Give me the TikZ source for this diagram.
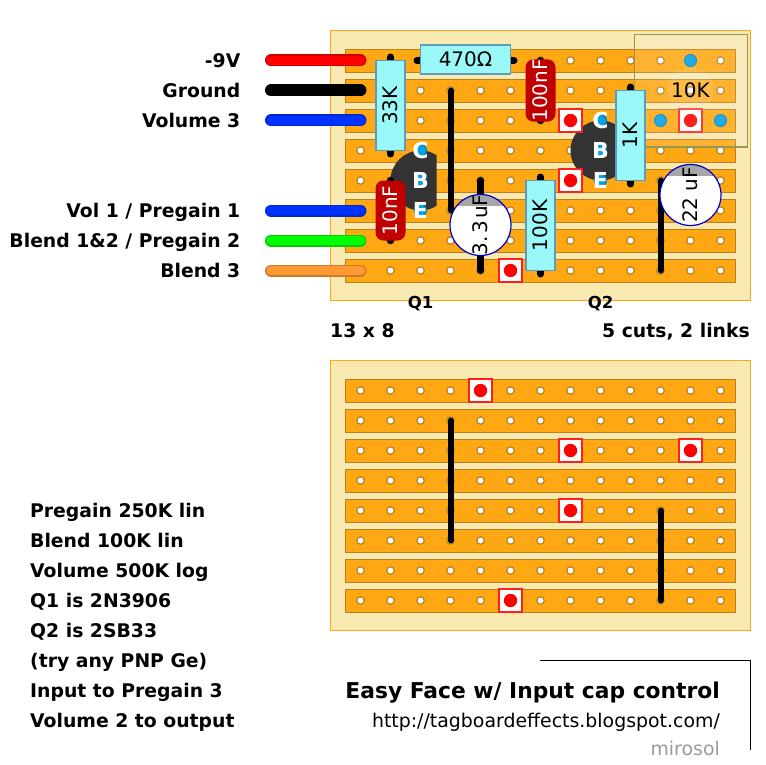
\documentclass[tikz,border=0pt]{standalone}
\usepackage{fontspec}
\setmainfont{DejaVu Sans}
\usepackage{xcolor}
\usepackage{tikz}
\usetikzlibrary{calc}
\definecolor{boardfill}{HTML}{F8E9B0}
\definecolor{boardedge}{HTML}{FFA51E}
\definecolor{stripfill}{HTML}{FFA813}
\definecolor{stripedge}{HTML}{B8801F}
\definecolor{resfill}{HTML}{9BF8F8}
\definecolor{resedge}{HTML}{5B9BBF}
\definecolor{capred}{HTML}{C00000}
\definecolor{padblue}{HTML}{00A2E8}
\definecolor{potedge}{HTML}{8F9B55}
\definecolor{wireblue}{HTML}{0033FF}
\definecolor{wiregreen}{HTML}{00FF00}
\definecolor{wireorange}{HTML}{FF9933}
\tikzset{
  board/.style={draw=boardedge, fill=boardfill, line width=1pt},
  strip/.style={draw=stripedge, fill=stripfill, line width=1.2pt, minimum width=390pt, minimum height=23pt, inner sep=0pt},
  hole/.style={circle, draw=stripedge, fill=white, line width=1.2pt, minimum size=7.5pt, inner sep=0pt},
  cutbox/.style={draw=red!88!white, fill=white, line width=1.2pt, minimum size=23pt, inner sep=0pt, path picture={\fill[red] (path picture bounding box.center) circle(6.7pt);}},
  link/.style={draw=black, line width=6pt, line cap=round},
  stub/.style={draw=black, line width=7pt, line cap=round},
  lead/.style={stub, shorten <=-3.5pt, shorten >=-3.5pt},
  res/.style={draw=resedge, fill=resfill, line width=1.2pt, inner sep=0pt, font=\fontsize{20}{24}\selectfont},
  film/.style={fill=capred, rounded corners=8pt, text=white, rotate=90, minimum width=60pt, minimum height=30pt, inner sep=0pt, font=\fontsize{20}{24}\selectfont},
  pad/.style={circle, draw=padblue!80!black, fill=padblue, line width=1pt, minimum size=12pt, inner sep=0pt},
  lab/.style={inner sep=0pt, text height=13.7pt, text depth=0pt, font=\fontsize{18.8}{24}\selectfont\bfseries},
  leg/.style={inner sep=0pt, text=white, text height=16pt, text depth=0pt, font=\fontsize{22}{26}\selectfont\bfseries},
  val/.style={inner sep=0pt, font=\fontsize{20}{24}\selectfont},
  note/.style={inner sep=0pt, text height=14.4pt, text depth=0pt, font=\fontsize{18.9}{24}\selectfont}
}
\begin{document}
\begin{tikzpicture}[x=1pt,y=-1pt]
  \useasboundingbox (0,0) rectangle (765,765);

  % boards
  \draw[board] (330.5,30.5) rectangle (750.5,300.5);
  \draw[board] (330.5,360.5) rectangle (750.5,630.5);
  \foreach \j in {0,...,7} {
    \node[strip] (st\j) at (540.5,60.7+30*\j) {};
    \node[strip] (sb\j) at (540.5,390.7+30*\j) {};
    \foreach \i in {0,...,12} {
      \node[hole] (t\i-\j) at (360.5+30*\i,60.5+30*\j) {};
      \node[hole] (b\i-\j) at (360.5+30*\i,390.5+30*\j) {};
    }
  }

  % transistors
  \begin{scope}
    \clip (380,140) rectangle (436.5,220);
    \fill[black!80] (t2-4.center) circle(30);
  \end{scope}
  \begin{scope}
    \clip (560,110) rectangle (616.5,190);
    \fill[black!80] (t8-3.center) circle(30);
  \end{scope}

  % cuts
  \foreach \n in {t7-2,t7-4,t5-7,t11-2,b4-0,b7-2,b11-2,b7-4,b5-7}
    \node[cutbox] (cut\n) at (\n) {};

  % links
  \draw[link] (t3-1.center)--(t3-5.center);
  \draw[link] (t10-4.center)--(t10-7.center);
  \draw[link] (b3-1.center)--(b3-5.center);
  \draw[link] (b10-4.center)--(b10-7.center);

  % leads
  \draw[lead] (t1-0.center)--(t1-3.center);
  \draw[lead] (t2-0.center)--(t5-0.center);
  \draw[stub] (t6-0.center)--(t6-2.center);
  \draw[lead] (t6-4.center)--(t6-7.center);
  \draw[lead] (t9-1.center)--(t9-4.center);
  \draw[stub] (t1-4.center)--(t1-6.center);
  \draw[stub] (t4-4.center)--(t4-7.center);

  % transistor pins
  \node[pad] (q1c) at (t2-3) {};
  \node[pad] (q1b) at (t2-4) {};
  \node[pad] (q1e) at (t2-5) {};
  \node[pad] (q2c) at (t8-2) {};
  \node[pad] (q2b) at (t8-3) {};
  \node[pad] (q2e) at (t8-4) {};
  \node[leg] (q1cl) at (q1c) {C};
  \node[leg] (q1bl) at (q1b) {B};
  \node[leg] (q1el) at (q1e) {E};
  \node[leg] (q2cl) at (q2c) {C};
  \node[leg] (q2bl) at (q2b) {B};
  \node[leg] (q2el) at (q2e) {E};

  % pot
  \node[pad] (p1) at (t11-0) {};
  \node[pad] (p2) at (t10-2) {};
  \node[pad] (p3) at (t12-2) {};
  \draw[draw=potedge, fill=white, fill opacity=0.12, line width=1.3pt] (634.5,34.5) rectangle (747.5,147);
  \fill[white, opacity=0.12] (t11-1.center) circle(23);
  \node[val] (pot) at (t11-1) {10K};

  % parts
  \node[res, rotate=90, minimum width=90pt, minimum height=29pt] (r33k) at (390.5,105.5) {33K};
  \node[res, minimum width=90pt, minimum height=29pt] (r470) at (465.5,59.5) {470Ω};
  \node[res, rotate=90, minimum width=90pt, minimum height=29pt] (r100k) at (540.5,225.5) {100K};
  \node[res, rotate=90, minimum width=90pt, minimum height=29pt] (r1k) at (630.5,135.5) {1K};
  \node[film] (c100n) at (540.5,90.5) {100nF};
  \node[film] (c10n) at (390.5,210.5) {10nF};

  % electrolytics
  \foreach \x/\y/\v/\n in {480.5/225/3.\kern3pt 3\kern2pt uF/ca,690.5/195/22 uF/cb} {
    \begin{scope}
      \clip (\x,\y) circle(30.5);
      \fill[white] (\x,\y) circle(30.5);
      \fill[black!35] (\x-31,\y-31) rectangle (\x+31,\y-19);
    \end{scope}
    \draw[draw=blue!80!black, line width=1.2pt] (\x,\y) circle(30.5);
    \node[val, rotate=90] (\n) at (\x,\y) {\v};
  }

  % wires
  \foreach \j/\col/\n in {0/red/a,1/black/b,2/wireblue/c,5/wireblue/d,6/wiregreen/e,7/wireorange/f} {
    \coordinate (w\n) at (271,60.5+30*\j);
    \draw[draw=\col!80!black, line width=12pt, line cap=round] (w\n)--(t0-\j.center);
    \draw[draw=\col, line width=9.5pt, line cap=round] (w\n)--(t0-\j.center);
  }

  % labels
  \foreach \j/\txt/\n in {0/-9V/a,1/Ground/b,2/Volume 3/c,5/Vol 1 \slash{} Pregain 1/d,6/Blend 1\&2 \slash{} Pregain 2/e,7/Blend 3/f}
    \node[lab, anchor=east] (l\n) at (240.5,60.5+30*\j) {\txt};
  \node[lab, text height=12pt, font=\fontsize{16.5}{20}\selectfont\bfseries] (q1) at (420.5,302.7) {Q1};
  \node[lab, text height=12pt, font=\fontsize{16.5}{20}\selectfont\bfseries] (q2) at (600.5,302.7) {Q2};
  \node[lab, anchor=west] (size) at (330,330.5) {13 x 8};
  \node[lab, anchor=east] (cuts) at (750,330.5) {5 cuts, 2 links};
  \foreach \j/\txt in {0/Pregain 250K lin,1/Blend 100K lin,2/Volume 500K log,3/Q1 is 2N3906,4/Q2 is 2SB33,5/(try any PNP Ge),6/Input to Pregain 3,7/Volume 2 to output}
    \node[lab, anchor=west] (n\j) at (30,511+30*\j) {\txt};

  % title block
  \draw[line width=1.3pt] (540,660.5) -- (750.5,660.5) -- (750.5,750);
  \node[lab, anchor=east, text height=15.9pt, font=\fontsize{21.8}{26}\selectfont\bfseries] (title) at (720,690.7) {Easy Face w/ Input cap control};
  \node[note, anchor=east] (url) at (720,720.7) {http://tagboardeffects.blogspot.com/};
  \node[note, anchor=east, text=black!40] (sig) at (720,748) {mirosol};
\end{tikzpicture}
\end{document}
